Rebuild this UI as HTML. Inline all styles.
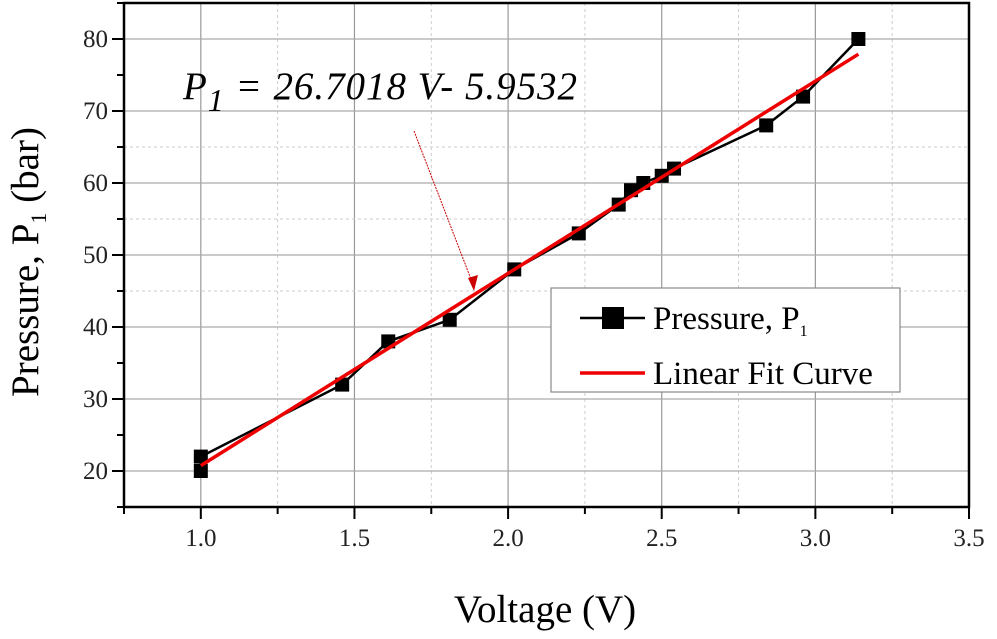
<!DOCTYPE html>
<html><head><meta charset="utf-8"><style>
body{margin:0;background:#fff;}
svg{display:block;font-family:"Liberation Serif",serif;}
</style></head><body>
<svg id="chart" width="997" height="639">
<g id="grid"></g>
<g id="fit"></g>
<g id="series"></g>
<rect x="124" y="3" width="845" height="504" fill="none" stroke="#000" stroke-width="2.5"/>
<g id="axes"></g>
<text x="183" y="99" font-size="39" font-style="italic" textLength="394" lengthAdjust="spacing">P<tspan dy="12" font-size="32">1</tspan><tspan dy="-12"> = 26.7018 V- 5.9532</tspan></text>
<line x1="414" y1="131" x2="474" y2="287" stroke="#c00" stroke-width="1" stroke-dasharray="2,1"/>
<polygon points="474,291 468,278 478,275" fill="#c00"/>
<g>
<rect x="551" y="288" width="349" height="104" fill="#fff" stroke="#888" stroke-width="1.2"/>
<line x1="580" y1="318" x2="645" y2="318" stroke="#000" stroke-width="2.5"/>
<rect x="602" y="307" width="22" height="22" fill="#000"/>
<text x="653" y="329" font-size="33">Pressure, P<tspan dy="7" font-size="16">1</tspan></text>
<line x1="580" y1="373" x2="645" y2="373" stroke="#e00" stroke-width="3.5"/>
<text x="653" y="384" font-size="33">Linear Fit Curve</text>
</g>
<text x="545" y="622" font-size="39" text-anchor="middle">Voltage (V)</text>
<text transform="translate(38,262) rotate(-90)" font-size="39" text-anchor="middle">Pressure, P<tspan dy="8" font-size="22">1</tspan><tspan dy="-8"> (bar)</tspan></text>
</svg>
<script>
const voltage=[1.0,1.0,1.46,1.61,1.81,2.02,2.23,2.36,2.40,2.44,2.50,2.54,2.84,2.96,3.14];
const pressure=[20,22,32,38,41,48,53,57,59,60,61,62,68,72,80];
const fitSlope=26.7018, fitIntercept=-5.9532;
const xTicks=[1.0,1.5,2.0,2.5,3.0,3.5];
const yTicks=[20,30,40,50,60,70,80];
const NS="http://www.w3.org/2000/svg";
const X0=0.75,X1=3.5,Y0=15,Y1=85,L=124,R=969,T=3,B=507;
const sx=v=>L+(v-X0)/(X1-X0)*(R-L);
const sy=v=>B-(v-Y0)/(Y1-Y0)*(B-T);
function mk(p,t,a){const e=document.createElementNS(NS,t);for(const k in a)e.setAttribute(k,a[k]);p.appendChild(e);return e;}
const grid=document.getElementById('grid'),axes=document.getElementById('axes');
xTicks.forEach(v=>{
 if(v<X1){const g=mk(grid,'line',{x1:sx(v),x2:sx(v),y1:T,y2:B,stroke:'#999','stroke-width':1.2});
 
 }
 const h=v+0.25;
 if(h<X1){const d=mk(grid,'line',{x1:sx(h),x2:sx(h),y1:T,y2:B,stroke:'#ccc','stroke-width':1,'stroke-dasharray':'3,3'});
 
 
 const mt=mk(axes,'line',{x1:sx(h),x2:sx(h),y1:B,y2:B+7,stroke:'#000','stroke-width':2});
 
 }
 const t=mk(axes,'line',{x1:sx(v),x2:sx(v),y1:B,y2:B+12,stroke:'#000','stroke-width':2});
 
 
 const tx=mk(axes,'text',{x:sx(v),y:B+39,'font-size':25,'text-anchor':'middle',fill:'#222'});tx.textContent=v.toFixed(1);
 
 
});
{const mt=mk(axes,'line',{x1:sx(0.75),x2:sx(0.75),y1:B,y2:B+7,stroke:'#000','stroke-width':2});

}
yTicks.forEach(v=>{
 const g=mk(grid,'line',{x1:L,x2:R,y1:sy(v),y2:sy(v),stroke:'#aaa','stroke-width':1.2});
 
 
 const h=v-5;
 const mt=mk(axes,'line',{x1:L-7,x2:L,y1:sy(h),y2:sy(h),stroke:'#000','stroke-width':2});
 
 
 if(h>=45&&h<=65){const d=mk(grid,'line',{x1:L,x2:R,y1:sy(h),y2:sy(h),stroke:'#ccc','stroke-width':1,'stroke-dasharray':'3,3'});
 
 }
 const t=mk(axes,'line',{x1:L-12,x2:L,y1:sy(v),y2:sy(v),stroke:'#000','stroke-width':2});
 
 
 const tx=mk(axes,'text',{x:L-16,y:sy(v)+8,'font-size':25,'text-anchor':'end',fill:'#222'});tx.textContent=v;
 
 
});
{const mt=mk(axes,'line',{x1:L-7,x2:L,y1:sy(85),y2:sy(85),stroke:'#000','stroke-width':2});

}
const fit=document.getElementById('fit'),ser=document.getElementById('series');
const pl=mk(ser,'polyline',{points:voltage.map((v,i)=>sx(v)+','+sy(pressure[i])).join(' '),fill:'none',stroke:'#000','stroke-width':2.5});


voltage.forEach((v,i)=>{
 const r=mk(ser,'rect',{x:sx(v)-7,y:sy(pressure[i])-7,width:14,height:14,fill:'#000'});
 
 
});
const vmin=Math.min(...voltage),vmax=Math.max(...voltage);
const fl=mk(ser,'line',{x1:sx(vmin),y1:sy(fitSlope*vmin+fitIntercept),x2:sx(vmax),y2:sy(fitSlope*vmax+fitIntercept),stroke:'#e00','stroke-width':3.5});


</script>
</body></html>
